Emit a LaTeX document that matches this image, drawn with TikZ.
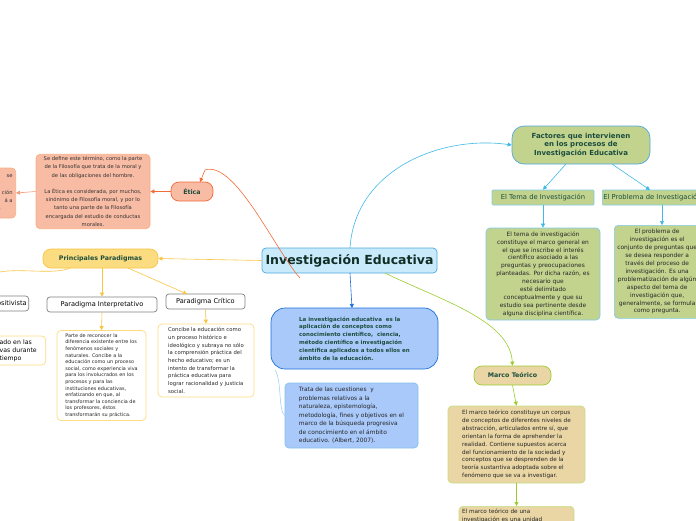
\documentclass[tikz,border=0pt]{standalone}
\usepackage{fontspec}
\setmainfont{DejaVu Sans}
\usetikzlibrary{arrows.meta}
\definecolor{dg}{HTML}{1B4D3E}
\definecolor{lblue}{HTML}{C8EAFA}
\definecolor{mblue}{HTML}{4FA8E0}
\definecolor{ibox}{HTML}{A9C9FA}
\definecolor{iborder}{HTML}{1A6FD8}
\definecolor{gfill}{HTML}{C2D38E}
\definecolor{gborder}{HTML}{7FCBEA}
\definecolor{sfill}{HTML}{F8BBA4}
\definecolor{sborder}{HTML}{F06A3A}
\definecolor{yfill}{HTML}{FCDC80}
\definecolor{yborder}{HTML}{F9C442}
\definecolor{tfill}{HTML}{E9D6A4}
\definecolor{tborder}{HTML}{9CCB2E}
\definecolor{orl}{HTML}{F26B3A}
\tikzset{
 box/.style={draw, rounded corners=4pt, line width=0.7pt, inner sep=3pt, align=center},
 tiny/.style={font=\fontsize{5.2}{8.3}\selectfont},
 small/.style={font=\fontsize{6.6}{10.2}\selectfont},
 arr/.style={-{Triangle[length=4pt,width=4pt]}, line width=0.6pt},
}
\begin{document}
\begin{tikzpicture}[x=1pt,y=-1pt]
\useasboundingbox (0,0) rectangle (696,520);
% main
\node[box, fill=lblue, draw=mblue, minimum width=175, minimum height=25, font=\bfseries\fontsize{12.5}{14}\selectfont, text=dg!60!black] (main) at (349.5,260.5) {Investigación Educativa};
% factores
\node[box, fill=gfill, draw=mblue, rounded corners=12pt, minimum width=138, minimum height=38, font=\bfseries\fontsize{7}{8.6}\selectfont, text=dg] (fac) at (581,145) {Factores que intervienen\\en los procesos de\\Investigación Educativa};
\node[box, fill=gfill, draw=gborder, rounded corners=1pt, minimum width=102, minimum height=15, inner sep=1pt, font=\fontsize{6.8}{8}\selectfont, text=dg] (tema) at (543,197.5) {El Tema de Investigación};
\node[box, fill=gfill, draw=gborder, rounded corners=1pt, minimum height=15, inner sep=1pt, font=\fontsize{6.8}{8}\selectfont, text=dg, anchor=west] (prob) at (602,197.5) {El Problema de Investigación};
\node[box, fill=gfill, draw=gborder, text=black!85, minimum width=114, minimum height=92, font=\fontsize{5.9}{7.9}\selectfont] (temat) at (543,274) {El tema de investigación\\constituye el marco general en\\el que se inscribe el interés\\científico asociado a las\\preguntas y preocupaciones\\planteadas. Por dicha razón, es\\necesario que\\esté delimitado\\conceptualmente y que su\\estudio sea pertinente desde\\alguna disciplina científica.};
\node[box, fill=gfill, draw=gborder, text=black!85, minimum height=93, font=\fontsize{5.9}{7.9}\selectfont, anchor=north west] (probt) at (614,225) {El problema de\\investigación es el\\conjunto de preguntas que\\se desea responder a\\través del proceso de\\investigación. Es una\\problematización de algún\\aspecto del tema de\\investigación que,\\generalmente, se formula\\como pregunta.};
% etica
\node[box, fill=sfill, draw=sborder, rounded corners=8pt, minimum width=42, minimum height=19, font=\bfseries\fontsize{6.3}{8}\selectfont, text=dg] (etica) at (192,191.5) {Ética};
\node[box, fill=sfill, draw=sfill!80!orange, tiny, text=black!80, minimum width=114, minimum height=63, inner sep=2pt] (eticat) at (93,191.5) {Se define este término, como la parte\\de la Filosofía que trata de la moral y\\de las obligaciones del hombre.\\[8pt]La Ética es considerada, por muchos,\\sinónimo de Filosofía moral, y por lo\\tanto una parte de la Filosofía\\encargada del estudio de conductas\\morales.};
\node[box, fill=sfill, draw=sfill!80!orange, tiny, text=black!80, align=left, minimum height=50, anchor=east, text width=40] (left1) at (16,193) {\hfill se\hspace*{12pt}\\[8pt]\hfill ción\\\hfill á a\hspace*{2pt}\\\hfill e\hspace*{12pt}};
% paradigmas
\node[box, fill=yfill, draw=yborder, rounded corners=8pt, minimum width=115, minimum height=19, font=\bfseries\fontsize{6.3}{8}\selectfont, text=dg] (par) at (100.5,258.5) {Principales Paradigmas};
\node[box, fill=white, draw=gray, rounded corners=3pt, minimum height=15, inner sep=2pt, small, anchor=east] (pos) at (29,303.5) {Paradigma Positivista};
\node[box, fill=white, draw=gray, rounded corners=3pt, minimum width=110, minimum height=15, inner sep=1pt, small] (inter) at (102,304.5) {Paradigma Interpretativo};
\node[box, fill=white, draw=gray, rounded corners=3pt, minimum width=79, minimum height=15, inner sep=1pt, small] (crit) at (205.5,301.5) {Paradigma Crítico};
\node[box, fill=white, draw=yfill, align=left, minimum width=89, minimum height=89, font=\fontsize{4.9}{6.6}\selectfont, text=black!85] (intert) at (101.5,375.5) {Parte de reconocer la\\diferencia existente entre los\\fenómenos sociales y\\naturales. Concibe a la\\educación como un proceso\\social, como experiencia viva\\para los involucrados en los\\procesos y para las\\instituciones educativas,\\enfatizando en que, al\\transformar la conciencia de\\los profesores, éstos\\transformarán su práctica.};
\node[box, fill=white, draw=yfill, align=left, minimum width=96, minimum height=73, font=\fontsize{5.3}{7.7}\selectfont, text=black!85] (critt) at (206,360.5) {Concibe la educación como\\un proceso histórico e\\ideológico y subraya no sólo\\la comprensión práctica del\\hecho educativo; es un\\intento de transformar la\\práctica educativa para\\lograr racionalidad y justicia\\social.};
\node[box, fill=white, draw=yfill, align=left, text width=80, minimum height=29, font=\fontsize{6.2}{8}\selectfont, anchor=east] (left2) at (46,350.5) {\hspace*{37pt}ado en las\\\hspace*{37pt}vas durante\\\hspace*{37pt}tiempo};
% la investigacion
\node[box, fill=ibox, draw=iborder, rounded corners=14pt, minimum width=167, minimum height=61, align=left, font=\bfseries\fontsize{5.5}{7.8}\selectfont, text=dg] (lainv) at (354.5,338.5) {La investigación educativa\ \ es la\\aplicación de conceptos como\\conocimiento científico,\ \ ciencia,\\método científico e investigación\\científica aplicados a todos ellos en\\ámbito de la educación.};
\node[box, fill=ibox, draw=mblue!70, align=left, minimum width=133, minimum height=65, font=\fontsize{5.9}{8.5}\selectfont, text=black!85] (trata) at (351.5,415.5) {Trata de las cuestiones\ \ y\\problemas relativos a la\\naturaleza, epistemología,\\metodología, fines y objetivos en el\\marco de la búsqueda progresiva\\de conocimiento en el ámbito\\educativo. (Albert, 2007).};
% marco
\node[box, fill=tfill, draw=tborder, rounded corners=8pt, minimum width=77, minimum height=19, font=\bfseries\fontsize{6.3}{8}\selectfont, text=dg] (marco) at (512.5,375.5) {Marco Teórico};
\node[box, fill=tfill, draw=tborder!60, align=left, minimum width=137, minimum height=77, font=\fontsize{5.7}{7.9}\selectfont, text=black!85] (marcot) at (516.5,444.5) {El marco teórico constituye un corpus\\de conceptos de diferentes niveles de\\abstracción, articulados entre sí, que\\orientan la forma de aprehender la\\realidad. Contiene supuestos acerca\\del funcionamiento de la sociedad y\\conceptos que se desprenden de la\\teoría sustantiva adoptada sobre el\\fenómeno que se va a investigar.};
\node[box, fill=tfill, draw=tborder!60, align=left, text width=109, font=\fontsize{5.7}{7.9}\selectfont, text=black!85, anchor=north] (marco2) at (516.5,506) {El marco teórico de una\\investigación es una unidad\\que};
% connectors
\draw[arr, draw=mblue!80!cyan] (350,248) .. controls (355,170) and (440,135) .. (fac.west);
\draw[arr, draw=orl] (300,278) .. controls (275,250) and (235,160) .. (205,170) -- (200,182);
\draw[arr, draw=yborder] (main.west) -- (par.east);
\draw[arr, draw=iborder] (350,273) -- (352,308);
\draw[arr, draw=tborder] (385,273) .. controls (440,300) and (510,320) .. (marco.north);
\draw[arr, draw=mblue!80!cyan] (566,164) -- (tema.north);
\draw[arr, draw=mblue!80!cyan] (612,164) -- (650,190);
\draw[arr, draw=mblue!80!cyan] (543,205) -- (temat.north);
\draw[arr, draw=mblue!80!cyan] (662,205) -- (662,225);
\draw[arr, draw=orl] (etica.west) -- (eticat.east);
\draw[arr, draw=orl!70] (eticat.west) -- (left1.east);
\draw[draw=yborder, line width=0.6pt] (70,268) .. controls (55,275) and (20,268) .. (0,272);
\draw[arr, draw=yborder] (102,268) -- (inter.north);
\draw[arr, draw=yborder] (128,268) -- (187,294);
\draw[arr, draw=yborder] (inter.south) -- (intert.north);
\draw[arr, draw=yborder] (crit.south) -- (critt.north);
\draw[draw=mblue!60, line width=0.5pt] (275,370) .. controls (282,380) and (278,410) .. (trata.west);
\draw[arr, draw=tborder] (marco.south) -- (marcot.north);
\draw[arr, draw=tborder] (marcot.south) -- (marco2.north);
\end{tikzpicture}
\end{document}
